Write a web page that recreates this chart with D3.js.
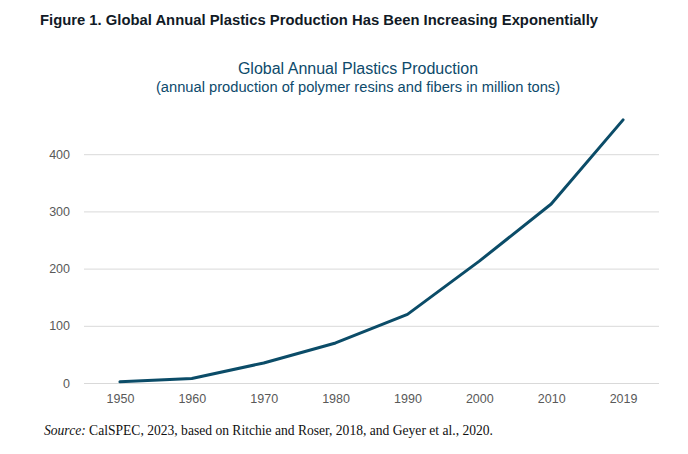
<!DOCTYPE html>
<html><head><meta charset="utf-8">
<script src="https://cdn.jsdelivr.net/npm/d3@7"></script>
<style>body{margin:0;background:#fff;} svg{display:block;}</style>
</head><body>
<script>
const years = ["1950","1960","1970","1980","1990","2000","2010","2019"];
const production = [2, 8, 35, 70, 120, 213, 313, 460];
const yTicks = [0, 100, 200, 300, 400];

(function(){
const W = 688, H = 454;
const svg = d3.select("body").append("svg").attr("width", W).attr("height", H);
const mLeft = 84, mRight = 659, mBottom = 383;

const x = d3.scalePoint().domain(years).range([mLeft, mRight]).padding(0.5);
const y = d3.scaleLinear().domain([0, 450]).range([mBottom, mBottom - 57.2*4.5]);

svg.append("text").attr("x", 40).attr("y", 25)
  .attr("font-family", "Liberation Sans, Arial, sans-serif").attr("font-weight", "bold")
  .attr("font-size", 14.5).attr("fill", "#111a26")
  .attr("textLength", 558).attr("lengthAdjust", "spacingAndGlyphs")
  .text("Figure 1. Global Annual Plastics Production Has Been Increasing Exponentially");

svg.append("text").attr("x", 358).attr("y", 74).attr("text-anchor", "middle")
  .attr("font-family", "Liberation Sans, Arial, sans-serif").attr("font-size", 16)
  .attr("fill", "#0d4a6b").text("Global Annual Plastics Production");
svg.append("text").attr("x", 358).attr("y", 92).attr("text-anchor", "middle")
  .attr("font-family", "Liberation Sans, Arial, sans-serif").attr("font-size", 14.7)
  .attr("fill", "#0d4a6b").text("(annual production of polymer resins and fibers in million tons)");

const yAxis = d3.axisLeft(y).tickValues(yTicks).tickSize(-(mRight - mLeft)).tickPadding(14);
const gy = svg.append("g").attr("transform", `translate(${mLeft},0)`).call(yAxis);
gy.select(".domain").remove();
gy.selectAll(".tick line").attr("stroke", "#d9d9d9").attr("stroke-width", 1);
gy.selectAll(".tick text").attr("font-family", "Liberation Sans, Arial, sans-serif")
  .attr("font-size", 12.5).attr("fill", "#595959");

const xAxis = d3.axisBottom(x).tickSize(0).tickPadding(11);
const gx = svg.append("g").attr("transform", `translate(0,${mBottom})`).call(xAxis);
gx.select(".domain").remove();
gx.selectAll(".tick text").attr("font-family", "Liberation Sans, Arial, sans-serif")
  .attr("font-size", 12.5).attr("fill", "#595959");

const line = d3.line().x((d, i) => x(years[i])).y(d => y(d));
svg.append("path").datum(production).attr("d", line)
  .attr("fill", "none").attr("stroke", "#0b4c68").attr("stroke-width", 3)
  .attr("stroke-linejoin", "round").attr("stroke-linecap", "round");

const src = svg.append("text").attr("x", 44).attr("y", 435)
  .attr("font-family", "Liberation Serif, Times New Roman, serif").attr("font-size", 14)
  .attr("fill", "#111").attr("textLength", 449).attr("lengthAdjust", "spacingAndGlyphs");
src.append("tspan").attr("font-style", "italic").text("Source:");
src.append("tspan").text(" CalSPEC, 2023, based on Ritchie and Roser, 2018, and Geyer et al., 2020.");
})();
</script>
</body></html>
